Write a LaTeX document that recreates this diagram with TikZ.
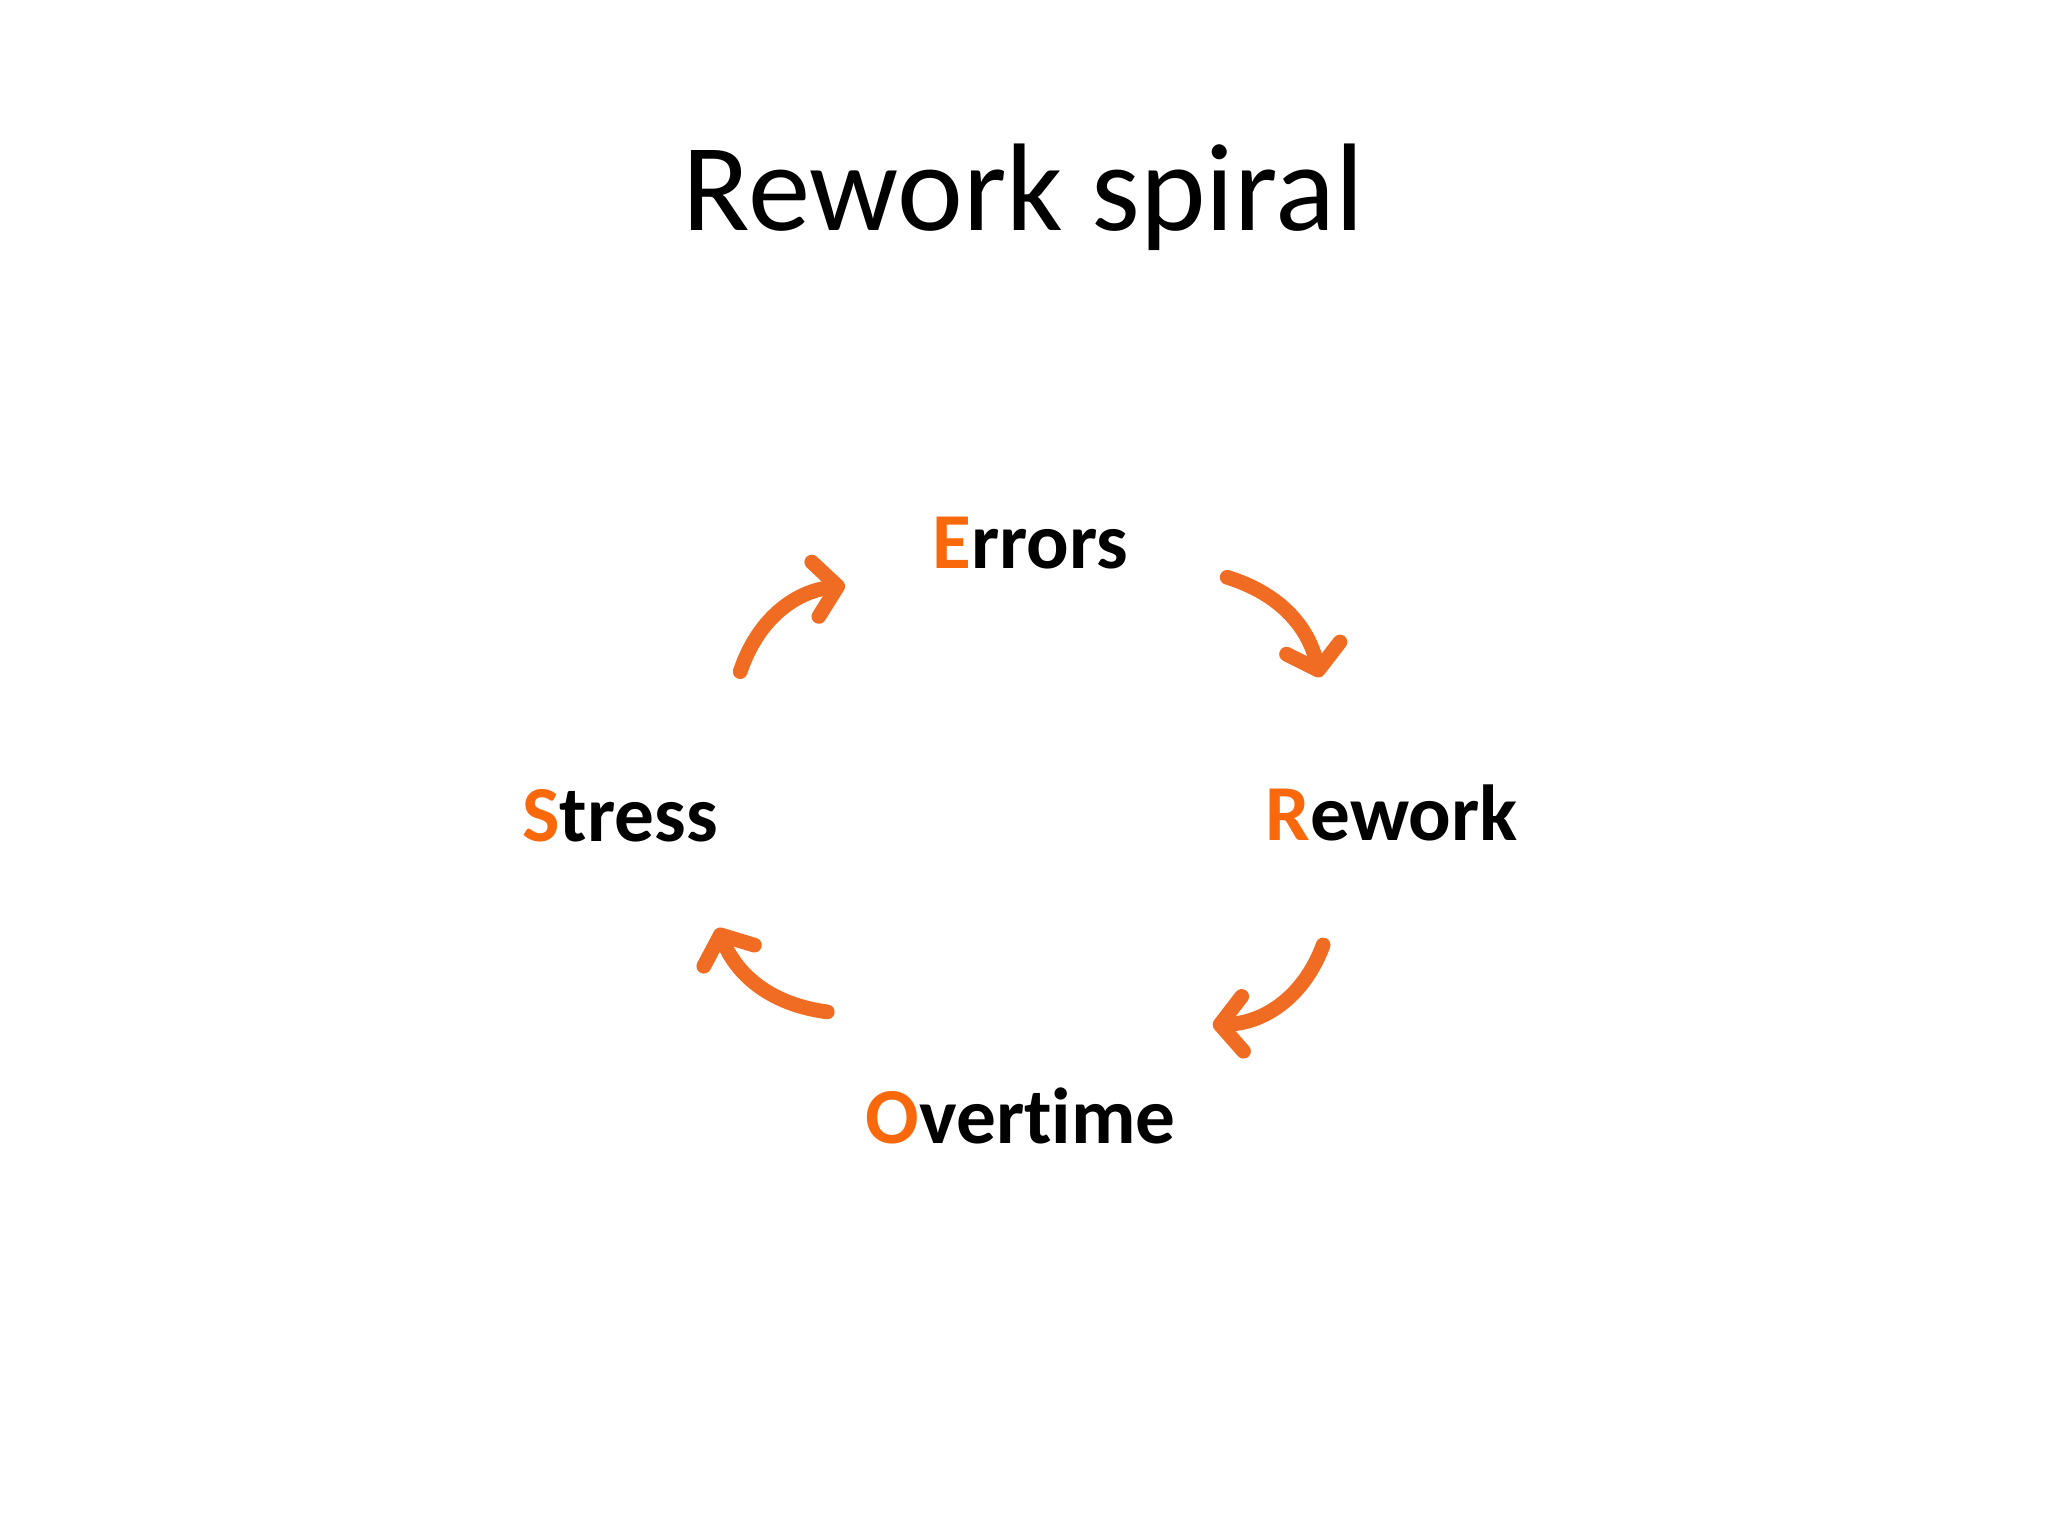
\documentclass[tikz,border=0pt]{standalone}
\usepackage{fontspec}
\setmainfont{Carlito}[Ligatures={CommonOff,ContextualOff}]
\usepackage{tikz}
\usetikzlibrary{arrows.meta}

\definecolor{spiralorange}{RGB}{240,108,34}
\definecolor{initialorange}{RGB}{250,104,12}
\newcommand{\firstletter}[1]{\textcolor{initialorange}{#1}}

\begin{document}
\begin{tikzpicture}[
    heading/.style={
        font=\fontsize{44}{53}\selectfont,
        anchor=base, inner sep=0pt
    },
    stage/.style={
        font=\fontsize{28}{34}\selectfont\bfseries,
        anchor=base, inner sep=0pt
    },
    cyclearrow/.style={
        -{Straight Barb[length=0.28cm, width=0.68cm, round]},
        draw=spiralorange, line width=5.2pt, line cap=round
    },
]
\useasboundingbox (0,0) rectangle (25.4,19.05);

% Title
\node[heading] (title) at (12.69,16.19) {Rework spiral};

% Stages
\node[stage] (errors)   at (12.78,12.00) {\firstletter{E}rrors};
\node[stage] (rework)   at (17.26,8.62)  {\firstletter{R}ework};
\node[stage] (overtime) at (12.66,4.87)  {\firstletter{O}vert\kern0pt ime};
\node[stage] (stress)   at (7.69,8.61)   {\firstletter{S}tress};

% Arrow ends
\coordinate (errTail) at (15.22,11.89);
\coordinate (rewHead) at (16.37,10.65);
\coordinate (rewTail) at (16.41,7.33);
\coordinate (ovtHead) at (15.04,6.34);
\coordinate (ovtTail) at (10.26,6.50);
\coordinate (strHead) at (8.90,7.54);
\coordinate (strTail) at (9.18,10.72);
\coordinate (errHead) at (10.48,11.79);

% Cycle
\draw[cyclearrow] (errTail) to[bend left=30] (rewHead);
\draw[cyclearrow] (rewTail) to[bend left=34] (ovtHead);
\draw[cyclearrow] (ovtTail) to[bend left=30] (strHead);
\draw[cyclearrow] (strTail) to[bend left=32] (errHead);

\end{tikzpicture}
\end{document}
